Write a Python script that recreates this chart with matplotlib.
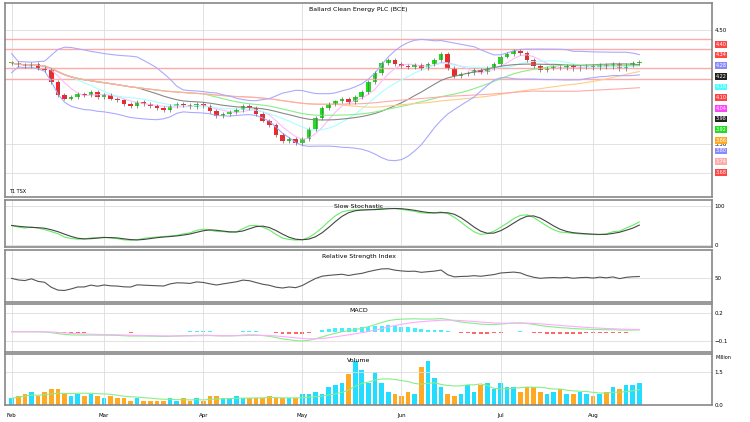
import numpy as np
import pandas as pd
import matplotlib
matplotlib.use('Agg')
import matplotlib.pyplot as plt

title = 'Ballard Clean Energy PLC (BCE)'
closes = [4.15, 4.13, 4.12, 4.14, 4.10, 4.08,
          3.95, 3.82, 3.78, 3.80, 3.83,
          3.82, 3.85, 3.80, 3.82, 3.78, 3.76, 3.72, 3.70, 3.74, 3.72,
          3.70, 3.68, 3.66, 3.70, 3.72, 3.71, 3.69, 3.72, 3.70, 3.65,
          3.60, 3.62, 3.64, 3.66, 3.70,
          3.68, 3.62, 3.55, 3.50, 3.40, 3.34, 3.36,
          3.31, 3.36, 3.46, 3.58,
          3.68, 3.72, 3.75, 3.78, 3.74, 3.80,
          3.85, 3.95, 4.05, 4.15, 4.18, 4.14,
          4.12, 4.11, 4.13, 4.10, 4.14, 4.18,
          4.25, 4.10, 4.02, 4.04, 4.05, 4.08,
          4.06, 4.10, 4.14, 4.22, 4.25, 4.28,
          4.26, 4.18, 4.12, 4.08, 4.10, 4.11,
          4.10, 4.12, 4.09, 4.11, 4.12, 4.10, 4.13, 4.11, 4.14, 4.09, 4.13, 4.15, 4.16]
volume = [0.3, 0.4, 0.5, 0.6, 0.4, 0.6, 0.7, 0.7, 0.5, 0.4, 0.5,
          0.4, 0.5, 0.4, 0.3, 0.4, 0.3, 0.3, 0.2, 0.3, 0.2,
          0.2, 0.2, 0.2, 0.3, 0.2, 0.3, 0.2, 0.3, 0.2, 0.4,
          0.4, 0.3, 0.3, 0.4, 0.3,
          0.3, 0.3, 0.3, 0.4, 0.3, 0.3,
          0.3, 0.3, 0.5, 0.5, 0.6, 0.5, 0.8, 0.9, 1.0, 1.4,
          2.0, 1.6, 1.0, 1.5, 1.0, 0.6, 0.5, 0.4, 0.6, 0.5, 1.7, 2.0,
          1.2, 0.8, 0.5, 0.4, 0.5, 0.9, 0.6, 0.9, 1.0, 0.7, 1.0, 0.8,
          0.8, 0.6, 0.8, 0.8, 0.6, 0.5, 0.6, 0.7, 0.5, 0.5, 0.6, 0.5,
          0.4, 0.5, 0.6, 0.8, 0.7, 0.9, 0.9, 1.0]
resist = [4.40, 4.30, 4.10, 3.98]
months = ['Feb', 'Mar', 'Apr', 'May', 'Jun', 'Jul', 'Aug']
month_pos = [0, 14, 29, 44, 59, 74, 88]

c = pd.Series(closes)
o = c.shift(1).fillna(c[0])
n = len(c)
x = np.arange(n)
up = c >= o

fig = plt.figure(figsize=(7.5, 4.22), dpi=100)
fig.patch.set_facecolor('white')
L, W = 5 / 750, 707 / 750

def panel(top, bot):
    ax = fig.add_axes([L, 1 - bot / 422, W, (bot - top) / 422])
    ax.set_xlim(-1, 106)
    ax.grid(True, color='#dddddd', lw=0.6)
    ax.yaxis.tick_right()
    ax.tick_params(labelsize=4, length=0, pad=2)
    ax.set_xticks(month_pos)
    ax.set_xticklabels([])
    for s in ax.spines.values():
        s.set_color('#888888')
        s.set_linewidth(1.2)
    return ax

# price panel
ax = panel(3, 197)
for r in resist:
    ax.axhline(r, color='#ffaaaa', lw=1.0)
for w, col in [(5, '#ffbbff'), (10, '#aaffff'), (20, '#888888'), (30, '#88ee88'), (50, '#ffcc88'), (80, '#ffaaaa')]:
    ax.plot(x, c.rolling(w, min_periods=1).mean(), color=col, lw=0.8)
mid = c.rolling(20, min_periods=1).mean()
sd = c.rolling(20, min_periods=1).std().fillna(0.05)
ax.plot(x, mid + 2 * sd, color='#aaaaff', lw=0.8)
ax.plot(x, mid - 2 * sd, color='#aaaaff', lw=0.8)
hi = np.maximum(c, o) + 0.02
lo = np.minimum(c, o) - 0.02
ax.vlines(x, lo, hi, color='#666666', lw=0.5)
ax.bar(x, (c - o).abs().clip(lower=0.01), bottom=np.minimum(c, o), width=0.7,
       color=np.where(up, '#22dd22', '#ff2222'))
ax.set_ylim(2.75, 4.78)
ax.set_yticks([4.5, 3.3, 3.0])
ax.set_yticklabels(['4.50', '3.50', '3.00'])
ax.set_title(title, fontsize=4.5, pad=-6, y=1)
ax.text(0.005, 0.02, 'T1 TSX', transform=ax.transAxes, fontsize=3.5)
tagcols = ['#ff4444', '#ff4444', '#8888ff', '#222222', '#44ffff', '#ff4444', '#ff44ff',
           '#222222', '#22dd22', '#ffaa22', '#8888ff', '#ffaaaa', '#ff4444']
for k, tc in enumerate(tagcols):
    ax.text(1.005, 0.78 - k * 0.055, '%.2f' % (4.4 - k * 0.06), transform=ax.transAxes,
            fontsize=3.5, color='white', bbox=dict(fc=tc, ec='none', pad=0.6))

# stochastic
ax2 = panel(200, 247)
low14 = c.rolling(14, min_periods=1).min() - 0.05
high14 = c.rolling(14, min_periods=1).max() + 0.05
k = (100 * (c - low14) / (high14 - low14)).rolling(5, min_periods=1).mean()
ax2.plot(x, k, color='#66ee66', lw=0.8)
ax2.plot(x, k.rolling(3, min_periods=1).mean(), color='#444444', lw=0.8)
ax2.set_ylim(-5, 115)
ax2.set_yticks([0, 100])
ax2.set_title('Slow Stochastic', fontsize=4.5, pad=-6, y=1)

# RSI
ax3 = panel(250, 302)
d = c.diff().fillna(0)
g = d.clip(lower=0).ewm(alpha=1 / 14, adjust=False).mean() + 0.01
ls = (-d.clip(upper=0)).ewm(alpha=1 / 14, adjust=False).mean() + 0.01
rsi = 100 - 100 / (1 + g / ls)
ax3.plot(x, rsi, color='#555555', lw=0.8)
ax3.set_ylim(0, 110)
ax3.set_yticks([50])
ax3.set_title('Relative Strength Index', fontsize=4.5, pad=-6, y=1)

# MACD
ax4 = panel(304, 352)
macd = c.ewm(span=12).mean() - c.ewm(span=26).mean()
sig = macd.ewm(span=9).mean()
hist = macd - sig
ax4.bar(x, hist, width=0.6, color=np.where(hist >= 0, '#44eeff', '#ff6666'))
ax4.plot(x, macd, color='#88ee88', lw=0.8)
ax4.plot(x, sig, color='#ffaaff', lw=0.8)
ax4.set_ylim(-0.22, 0.3)
ax4.set_yticks([0.2, -0.1])
ax4.set_title('MACD', fontsize=4.5, pad=-6, y=1)

# volume
ax5 = panel(354, 405)
ax5.bar(x, volume, width=0.7, color=np.where(up, '#22ddff', '#ffaa22'))
ax5.plot(x, pd.Series(volume).rolling(10, min_periods=1).mean(), color='#88ee88', lw=0.8)
ax5.set_ylim(0, 2.3)
ax5.set_yticks([0, 1.5])
ax5.set_title('Volume', fontsize=4.5, pad=-6, y=1)
ax5.text(1.005, 0.9, 'Million', transform=ax5.transAxes, fontsize=3.5)
ax5.set_xticklabels(months, fontsize=4)
ax5.tick_params(axis='x', pad=6)

fig.savefig('out.png', dpi=100)
